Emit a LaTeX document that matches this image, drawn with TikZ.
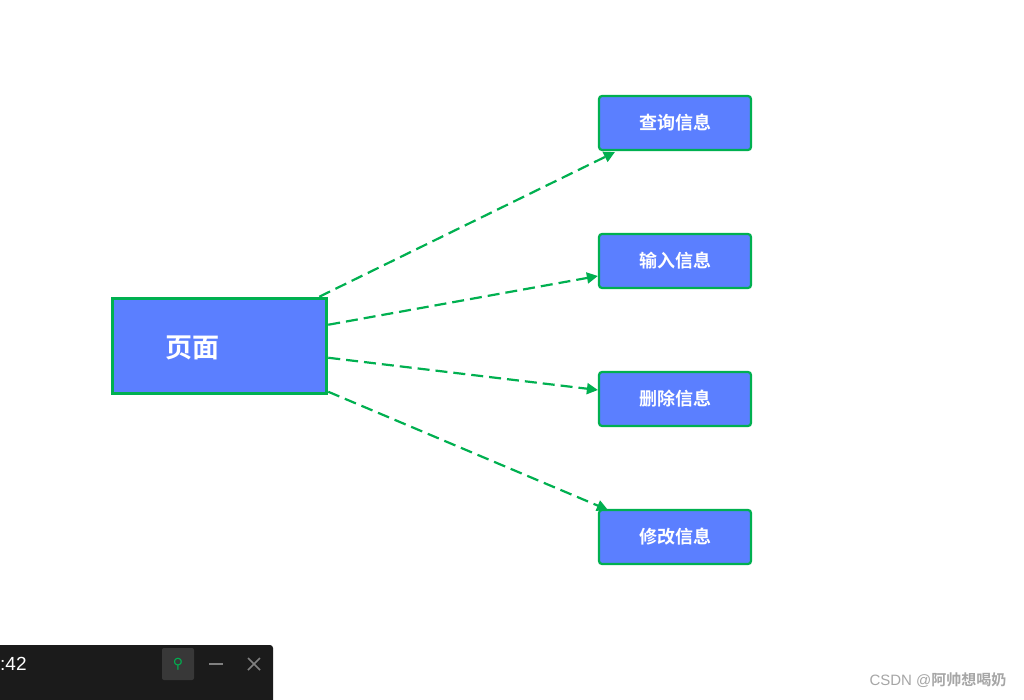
\documentclass[tikz,border=0pt]{standalone}
\usepackage{fontspec}
\newfontfamily\cjk{Noto Sans CJK SC Bold}
\usetikzlibrary{calc,arrows.meta}
\definecolor{bfill}{HTML}{5B7FFF}
\definecolor{gline}{HTML}{00B050}
\definecolor{bar}{HTML}{1B1B1B}
\begin{document}
\begin{tikzpicture}[x=1pt,y=-1pt,
  small/.style={draw=gline,line width=2.2pt,fill=bfill,rounded corners=3pt,minimum width=152pt,minimum height=54pt,text=white,font=\cjk\fontsize{18}{20}\selectfont,inner sep=0pt},
  conn/.style={draw=gline,line width=2.2pt,dash pattern=on 12pt off 6pt,-{Triangle[length=11pt,width=11pt]}}]
\useasboundingbox (0,0) rectangle (1024,700);
\fill[white] (0,0) rectangle (1024,700);
\node[draw=gline,line width=3.5pt,fill=bfill,minimum width=214pt,minimum height=95pt,inner sep=0pt] (main) at (219.5,346) {};
\node[text=white,font=\cjk\fontsize{27}{30}\selectfont] (mt) at (192,348) {页面};
\node[small] (a) at (675,123) {查询信息};
\node[small] (b) at (675,261) {输入信息};
\node[small] (c) at (675,399) {删除信息};
\node[small] (d) at (675,537) {修改信息};
\coordinate (s1) at ($(main.north east)+(-9,0)$);
\coordinate (s2) at ($(main.north east)+(0,28)$);
\coordinate (s3) at ($(main.north east)+(0,61)$);
\coordinate (s4) at ($(main.north east)+(0,95)$);
\draw[conn] (s1) -- ($(a.south west)+(17,1)$);
\draw[conn] (s2) -- ($(b.west)+(0,15)$);
\draw[conn] (s3) -- ($(c.west)+(0,-9)$);
\draw[conn] (s4) -- ($(d.north west)+(10,1)$);
% bottom bar
\fill[bar,rounded corners=3pt] (-5,645) rectangle (273,705);
\node[text=white,font=\fontspec{Liberation Sans}\fontsize{19}{20}\selectfont,anchor=west,inner sep=0pt] (tm) at (0,664) {:42};
\fill[black!78,rounded corners=2pt] (162,648) rectangle (194,680);
\node[text=gline,font=\fontspec{DejaVu Sans}\fontsize{14}{14}\selectfont] (pin) at (178,664) {\rotatebox{0}{⚲}};
\draw[gray,line width=1.5pt] (209,664) -- (223,664);
\draw[gray,line width=1.5pt] (248,658) -- (260,670) (260,658) -- (248,670);
\node[text=gray!70,font=\fontspec{Liberation Sans}\fontsize{15}{16}\selectfont,anchor=east] (wm) at (1010,680) {CSDN @{\cjk 阿帅想喝奶}};
\end{tikzpicture}
\end{document}
